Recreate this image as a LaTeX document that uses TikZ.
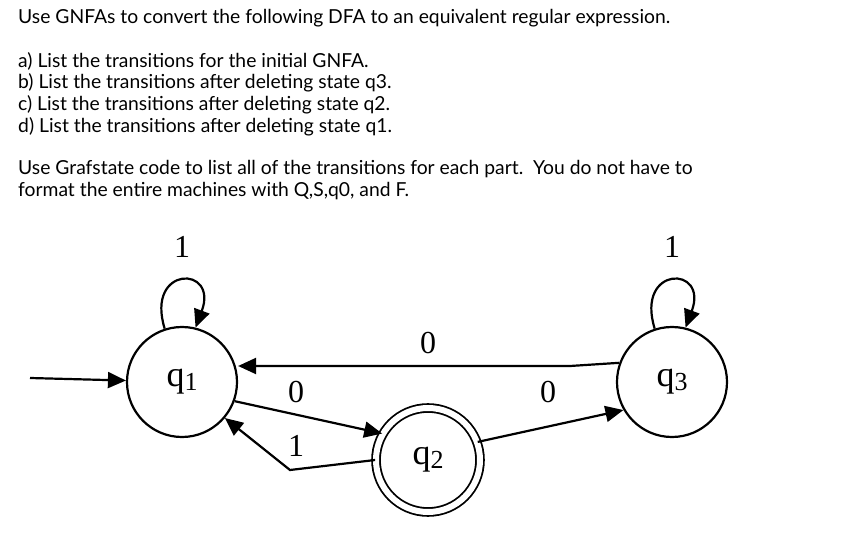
\documentclass[tikz,border=0pt]{standalone}
\usepackage{fontspec}
\setmainfont{Lato}
\newfontfamily\graphfont{Liberation Serif}
\usetikzlibrary{arrows.meta,positioning}
\tikzset{
	state/.style={circle,draw,line width=2.2pt,minimum size=110pt,inner sep=0pt,font=\graphfont\fontsize{36}{36}\selectfont},
	accepting/.style={double,double distance=6pt,line width=1.8pt},
	lbl/.style={font=\graphfont\fontsize{32}{32}\selectfont},
	txt/.style={anchor=west,inner sep=0pt,font=\fontsize{19.3}{22}\selectfont},
	tr/.style={line width=2.2pt,-{Triangle[length=18pt,width=16pt]}}
}
\begin{document}
\begin{tikzpicture}[x=1pt,y=-1pt]
	\useasboundingbox (0,0) rectangle (846,537);
	%
	%  TEXT
	%
	\node[txt] (t1) at (18,18) {Use GNFAs to convert the following DFA to an equivalent regular expression.};
	\node[txt] (t2) at (18,61) {a) List the transitions for the initial GNFA.};
	\node[txt] (t3) at (18,83) {b) List the transitions after deleting state q3.};
	\node[txt] (t4) at (18,105) {c) List the transitions after deleting state q2.};
	\node[txt] (t5) at (18,127) {d) List the transitions after deleting state q1.};
	\node[txt] (t6) at (18,169) {Use Grafstate code to list all of the transitions for each part.\ \ You do not have to};
	\node[txt] (t7) at (18,191) {format the entire machines with Q,S,q0, and F.};
	%
	%  STATES
	%
	\node[state] (A) at (182,382) {q\raisebox{-0.25ex}{\fontsize{26}{26}\selectfont 1}};
	\node[state,accepting,minimum size=104pt] (B) at (428,460) {q\raisebox{-0.25ex}{\fontsize{26}{26}\selectfont 2}};
	\node[state] (C) at (672,382) {q\raisebox{-0.25ex}{\fontsize{26}{26}\selectfont 3}};
	\coordinate (S) at (30,378);
	\coordinate (P) at (570,366);
	\coordinate (R) at (290,470);
	%
	\draw[tr] (S) -- (A);
	\draw[tr] (A.108) .. controls (145,265) and (219,265) .. (A.76);
	\draw[tr] (C.108) .. controls (635,265) and (709,265) .. (C.76);
	\draw[tr] (C.160) -- (P) -- (A.east|-P);
	\draw[tr] (A.-20) -- (B.150);
	\draw[tr] (B.180) -- (R) -- (A.-40);
	\draw[tr] (B.20) -- (C.-150);
	%
	\node[lbl] (L1) at (182,247) {1};
	\node[lbl] (L3) at (672,247) {1};
	\node[lbl] (L31) at (428,343) {0};
	\node[lbl] (L12) at (296,392) {0};
	\node[lbl] (L21) at (296,446) {1};
	\node[lbl] (L23) at (548,392) {0};
\end{tikzpicture}
\end{document}
